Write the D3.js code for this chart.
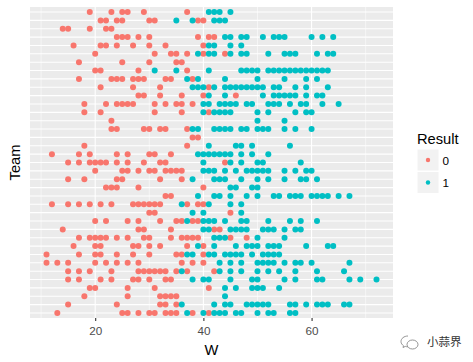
<!DOCTYPE html>
<html>
<head>
<meta charset="utf-8">
<script src="https://cdn.jsdelivr.net/npm/d3@7"></script>
<style>
  body { margin: 0; background: #fff; }
  text { font-family: "Liberation Sans", Arial, sans-serif; }
</style>
</head>
<body>
<div id="chart"></div>
<script>
// teams, listed top row first (y axis labels are blank in the original)
const teams = ["T37","T36","T35","T34","T33","T32","T31","T30","T29","T28",
               "T27","T26","T25","T24","T23","T22","T21","T20","T19","T18",
               "T17","T16","T15","T14","T13","T12","T11","T10","T09","T08",
               "T07","T06","T05","T04","T03","T02","T01"];

// wins per season, Result = 0
const result0 = [
  [19,23,25,26,29,37],
  [21,22,24,25,30,31,39,40],
  [14,15,19,22,23],
  [24,25,26,28,30,39,41,42],
  [16,21,22,24,27,30,33,40],
  [20,31,34,35,37,40,44],
  [17,25,30,35,36],
  [20,21,28,37],
  [17,23,24,25,27,28,29,33,34,38],
  [21,27,32,41],
  [28,29,32,36,40,46],
  [18,22,24,25,26,27,31,33,35,36,38],
  [18,21,31,36,41],
  [23],
  [23,24,29,30,32,33,37],
  [38,39],
  [18,37],
  [12,17,19,24,26,30,31,34],
  [15,17,19,20,21,22,24,26,29,32,33,44],
  [20,25,26,28,30,31,33,34,35,36],
  [15,18,24,25,32,36],
  [22,23,24,28,40],
  [33,34],
  [12,15,17,19,21,23,27,28,29,30,31,32,37,39,40],
  [30,31,45],
  [20,22,26,28,32,35,36,38,39],
  [14,28,29,34,42,43],
  [17,19,20,21,22,24,26,29,30,34,36,37,38,39,45,48],
  [16,20,21,27,28,30,32,37,40],
  [11,17,20,21,24,27,30,35,36,40],
  [11,13,15,20,22,24,26,28,36,38,40],
  [15,17,19,23,28,29,30,31,32,33,35,37,42],
  [15,17,21,23,27,28,30,33,34],
  [19,20,26,31,41],
  [18,26,32,33,34,35],
  [15,24,32,33,35],
  [13,25,26,28,30,31,33,34,35,38,41]
];

// wins per season, Result = 1
const result1 = [
  [41,42,43,45],
  [35,38,42,43,44],
  [],
  [44,45,47,48,51,53,54,55,60,62,64],
  [41,42,45,47],
  [39,41,42,45,47,48,52,55,56,57,61,63,64],
  [],
  [31,35,41,47,48,49,50,52,53,54,55,56,57,58,59,60,61,62,63],
  [37,39,44,50,55,59,61],
  [38,39,40,42,44,45,46,47,48,49,50,51,53,54,57,59,63],
  [41,44,51,53,54,55,56,57,59,61,62],
  [40,41,43,44,45,46,48,49,52,53,54,56,58,59,62,65],
  [40,42,43,44,45,50,52,57,59,60],
  [50,55],
  [38,39,42,43,44,45,47,48,50,51,52,55,57,60],
  [],
  [41,46,47,49,56],
  [39,40,41,42,43,44,45,47,49,52],
  [40,45,47,50,51,58],
  [40,41,42,44,46,48,49,50,51,52,55,57,59,60],
  [38,42,43,44,47,50,52,55,58,59,61],
  [45,46,49,50],
  [39,42,43,45,48,50,53,54,56,57,58,60,61,62,63,65,67],
  [36,41,45,47],
  [38,40,47],
  [37,40,41,42,44,47,48,52,56,58,61],
  [40,41,45,46,47,48,51,52,53,55,57,58],
  [42,43,44,50,55],
  [39,42,46,48,49,50,52,53,54,59,63,64],
  [37,38,41,42,44,45,46,47,49,51,52,53,54],
  [43,45,47,50,51,52,53,55,57,58,60,67],
  [36,43,45,47,50,52,54,57,61,66],
  [38,40,41,45,49,50,55,57,61,62,67,69,72],
  [44,46,49,50,51,54],
  [44],
  [36,42,44,45,48,49,50,51,52,56,57,59,61,62,63,66,67],
  [37,40,42,43,44,46,47,50,52,53,56,57]
];

const results = ["0", "1"];
const xTicks = [20, 40, 60];
const xMinor = [10, 30, 50, 70];

const W = 473, H = 362;
const panel = {left: 30, right: 393, top: 7, bottom: 318};

const svg = d3.select("#chart").append("svg")
  .attr("width", W).attr("height", H);

// flatten into rows of {team, W, Result}
const points = [];
[result0, result1].forEach((series, r) => {
  series.forEach((wins, i) => {
    wins.forEach(w => points.push({team: teams[i], W: w, Result: results[r]}));
  });
});

const allW = points.map(d => d.W);
const [wMin, wMax] = d3.extent(allW);
const pad = (wMax - wMin) * 0.05;

const x = d3.scaleLinear().domain([wMin - pad, wMax + pad]).range([panel.left, panel.right]);
const y = d3.scalePoint().domain(teams).range([panel.top, panel.bottom]).padding(0.6);
const color = d3.scaleOrdinal().domain(results).range(["#F8766D", "#00BFC4"]);

// panel background
svg.append("rect")
  .attr("x", panel.left).attr("y", panel.top)
  .attr("width", panel.right - panel.left).attr("height", panel.bottom - panel.top)
  .attr("fill", "#EBEBEB");

// grid
const grid = svg.append("g");
grid.selectAll(".minor").data(xMinor.filter(v => x(v) > panel.left && x(v) < panel.right))
  .join("line")
  .attr("x1", d => x(d)).attr("x2", d => x(d))
  .attr("y1", panel.top).attr("y2", panel.bottom)
  .attr("stroke", "#fff").attr("stroke-width", 0.55);
grid.selectAll(".majx").data(xTicks)
  .join("line")
  .attr("x1", d => x(d)).attr("x2", d => x(d))
  .attr("y1", panel.top).attr("y2", panel.bottom)
  .attr("stroke", "#fff").attr("stroke-width", 1.1);
grid.selectAll(".majy").data(teams)
  .join("line")
  .attr("x1", panel.left).attr("x2", panel.right)
  .attr("y1", d => y(d)).attr("y2", d => y(d))
  .attr("stroke", "#fff").attr("stroke-width", 1.1);

// points
svg.append("g").selectAll("circle")
  .data(points)
  .join("circle")
  .attr("cx", d => x(d.W))
  .attr("cy", d => y(d.team))
  .attr("r", 3)
  .attr("fill", d => color(d.Result));

// x axis
const xAxis = d3.axisBottom(x).tickValues(xTicks).tickSize(3).tickPadding(3);
const gx = svg.append("g")
  .attr("transform", `translate(0,${panel.bottom})`)
  .call(xAxis);
gx.select(".domain").remove();
gx.selectAll(".tick line").attr("stroke", "#333").attr("stroke-width", 1.1);
gx.selectAll(".tick text")
  .attr("fill", "#4D4D4D")
  .style("font-size", "11.7px")
  .attr("dy", "0.9em");

// axis titles
svg.append("text")
  .attr("x", (panel.left + panel.right) / 2).attr("y", 355)
  .attr("text-anchor", "middle")
  .style("font-size", "14.7px")
  .text("W");

svg.append("text")
  .attr("transform", `translate(19.5,${(panel.top + panel.bottom) / 2}) rotate(-90)`)
  .attr("text-anchor", "middle")
  .style("font-size", "14.7px")
  .text("Team");

// legend
const legend = svg.append("g").attr("transform", "translate(417,149)");
legend.append("text")
  .attr("x", 0).attr("y", -5)
  .style("font-size", "14.7px")
  .text("Result");

const keys = legend.selectAll(".key").data(results)
  .join("g")
  .attr("transform", (d, i) => `translate(0,${i * 22.5})`);
keys.append("rect")
  .attr("width", 22).attr("height", 22)
  .attr("fill", "#F2F2F2").attr("stroke", "#fff").attr("stroke-width", 1);
keys.append("circle")
  .attr("cx", 11).attr("cy", 11).attr("r", 2.2)
  .attr("fill", d => color(d));
keys.append("text")
  .attr("x", 25.5).attr("y", 15.5)
  .style("font-size", "11.7px")
  .text(d => d);

// watermark
const wm = svg.append("g").attr("transform", "translate(401,335)");
wm.append("path")
  .attr("d", "M7,1 C3,1 0,3.5 0,6.5 C0,8.3 1,9.7 2.5,10.7 L2,12.5 L4.3,11.4 C5.2,11.7 6,11.8 7,11.8")
  .attr("fill", "none").attr("stroke", "#888").attr("stroke-width", 0.9);
wm.append("ellipse")
  .attr("cx", 11.5).attr("cy", 9.5).attr("rx", 5.5).attr("ry", 4.5)
  .attr("fill", "none").attr("stroke", "#888").attr("stroke-width", 0.9);
wm.append("text")
  .attr("x", 26).attr("y", 11)
  .style("font-family", "'Noto Sans CJK SC', sans-serif")
  .style("font-size", "11.5px")
  .attr("fill", "#333")
  .text("小蒜界");
</script>
</body>
</html>
